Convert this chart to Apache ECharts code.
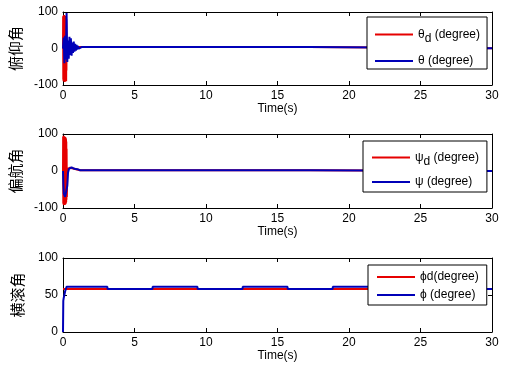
<!DOCTYPE html>
<html><head><meta charset="utf-8">
<script src="https://cdn.jsdelivr.net/npm/echarts@6/dist/echarts.min.js"></script>
<style>html,body{margin:0;padding:0;background:#fff}#c{width:512px;height:373px}</style>
</head><body><div id="c"></div>
<script>
// ---- data: [time (s), angle (degree)] ----
const thetaD = [[0,0],[0.01,88],[0.02,-85],[0.03,90],[0.04,-90],[0.05,86],[0.06,-88],[0.07,92],[0.08,-80],[0.09,90],[0.10,-90],[0.11,85],[0.12,-92],[0.13,88],[0.14,-86],[0.15,90],[0.16,-90],[0.17,84],[0.18,-88],[0.19,90],[0.20,-85],[0.21,88],[0.22,-90],[0.23,80],[0.24,-60],[0.25,20],[0.3,4],[17.2,4],[17.25,1],[30,1]];
const theta = [[0,0],[0.05,30],[0.1,-40],[0.15,35],[0.2,-30],[0.25,97],[0.3,-37],[0.35,22],[0.4,-28],[0.45,32],[0.5,-18],[0.55,28],[0.6,-20],[0.65,16],[0.7,-12],[0.75,19],[0.8,-9],[0.85,13],[0.9,-6],[0.95,10],[1.0,-3],[1.05,7],[1.1,0],[1.15,5],[1.2,2],[1.3,4],[17.2,4],[17.25,1],[30,1]];
const psiD = [[0,0],[0.01,92],[0.02,-88],[0.03,95],[0.04,-90],[0.05,90],[0.06,-92],[0.07,88],[0.08,-86],[0.09,94],[0.10,-90],[0.11,90],[0.12,-92],[0.13,86],[0.14,-88],[0.15,92],[0.16,-90],[0.17,88],[0.18,-85],[0.19,90],[0.20,-88],[0.21,86],[0.22,-84],[0.23,80],[0.24,-78],[0.25,60],[0.27,-70],[0.3,5],[0.5,9],[1.2,2],[17.3,2],[17.35,0],[30,0]];
const psi = [[0,0],[0.03,-40],[0.06,-62],[0.1,-66],[0.15,-70],[0.2,-72],[0.25,-72],[0.3,-40],[0.35,-5],[0.42,6],[0.5,9],[0.6,10],[0.7,9],[0.8,6],[0.9,3],[1.0,5],[1.1,3],[1.2,2],[17.3,2],[17.35,0],[30,0]];
const phiD = [[0,58],[30,58]];
const phi = [[0,0],[0.02,42],[0.05,46],[0.1,47],[0.15,55],[0.25,61],[3.1,61],[3.12,58],[6.25,58],[6.27,61],[9.4,61],[9.42,58],[12.55,58],[12.57,61],[15.7,61],[15.72,58],[18.85,58],[18.87,61],[22.0,61],[22.02,58],[25.1,58],[25.12,61],[28.25,61],[28.27,58],[30,58]];

const yNames = ['俯仰角','偏航角','横滚角'];
const yRanges = [[-100,100,100],[-100,100,100],[0,100,50]];
const seriesNames = [['θd (degree)','θ (degree)'],['ψd (degree)','ψ (degree)'],['ϕd(degree)','ϕ (degree)']];
const seriesData = [[thetaD,theta],[psiD,psi],[phiD,phi]];

const RED = '#e60000', BLUE = '#0000b8';
const FONT = '"Liberation Sans", Arial, sans-serif';
const grids = [{left:63,right:20,top:12,height:73},{left:63,right:20,top:134,height:74},{left:63,right:20,top:258,height:74}];

const xAxis = [], yAxis = [], series = [], legend = [];
const black = {lineStyle:{color:'#000',width:1}};
for (let i=0;i<3;i++){
  xAxis.push({gridIndex:i,type:'value',min:0,max:30,interval:5,position:'bottom',
    axisLine:{show:true,onZero:false,...black},axisTick:{inside:true,length:4,...black},
    axisLabel:{color:'#000',fontSize:12,fontFamily:FONT,margin:5},splitLine:{show:false},
    name:'Time(s)',nameLocation:'middle',nameGap:18,nameTextStyle:{color:'#000',fontSize:12,fontFamily:FONT}});
  xAxis.push({gridIndex:i,type:'value',min:0,max:30,interval:5,position:'top',
    axisLine:{show:true,onZero:false,...black},axisTick:{inside:true,length:4,...black},
    axisLabel:{show:false},splitLine:{show:false}});
  const [mn,mx,iv] = yRanges[i];
  yAxis.push({gridIndex:i,type:'value',min:mn,max:mx,interval:iv,position:'left',
    axisLine:{show:true,onZero:false,...black},axisTick:{show:true,inside:true,length:4,...black},
    axisLabel:{color:'#000',fontSize:12,fontFamily:FONT,margin:5},splitLine:{show:false},
    name:yNames[i],nameLocation:'middle',nameGap:38,nameTextStyle:{color:'#000',fontSize:15,fontFamily:'"Noto Sans CJK SC"'}});
  yAxis.push({gridIndex:i,type:'value',min:mn,max:mx,interval:iv,position:'right',
    axisLine:{show:true,onZero:false,...black},axisTick:{show:true,inside:true,length:4,...black},
    axisLabel:{show:false},splitLine:{show:false}});
  const cols = [RED,BLUE];
  for (let k=0;k<2;k++){
    series.push({type:'line',name:seriesNames[i][k],xAxisIndex:2*i,yAxisIndex:2*i,data:seriesData[i][k],
      showSymbol:false,symbol:'none',smooth:false,z:2+k,color:cols[k],
      lineStyle:{color:cols[k],width:2},animation:false});
  }
}
const legPos = [
  {left:367,top:17,padding:[7,7,2,8],itemGap:10},
  {left:363,top:141,padding:[6,8,4,9],itemGap:8},
  {left:368,top:265,padding:[6,8,4,9],itemGap:6}
];
const fmt = function(name){
  const m = name.match(/^(.)d (\(degree\))$/);
  if (m) return '{a|'+m[1]+'}{s|d}{a| '+m[2]+'}';
  return '{a|'+name+'}';
};
for (let i=0;i<3;i++){
  legend.push({data:seriesNames[i],orient:'vertical',left:legPos[i].left,top:legPos[i].top,
    padding:legPos[i].padding,itemGap:legPos[i].itemGap,itemWidth:38,itemHeight:2,icon:'rect',
    backgroundColor:'#fff',borderColor:'#000',borderWidth:1,borderRadius:0,z:10,selectedMode:false,
    formatter:fmt,
    textStyle:{color:'#000',fontSize:12,fontFamily:FONT,
      rich:{a:{fontSize:12,fontFamily:FONT,color:'#000',lineHeight:16},
            s:{fontSize:12,fontFamily:FONT,color:'#000',lineHeight:16,padding:[9,0,0,0]}}}});
}
const chart = echarts.init(document.getElementById('c'),null,{renderer:'canvas'});
chart.setOption({animation:false,backgroundColor:'#fff',grid:grids,xAxis,yAxis,series,legend});
</script></body></html>
